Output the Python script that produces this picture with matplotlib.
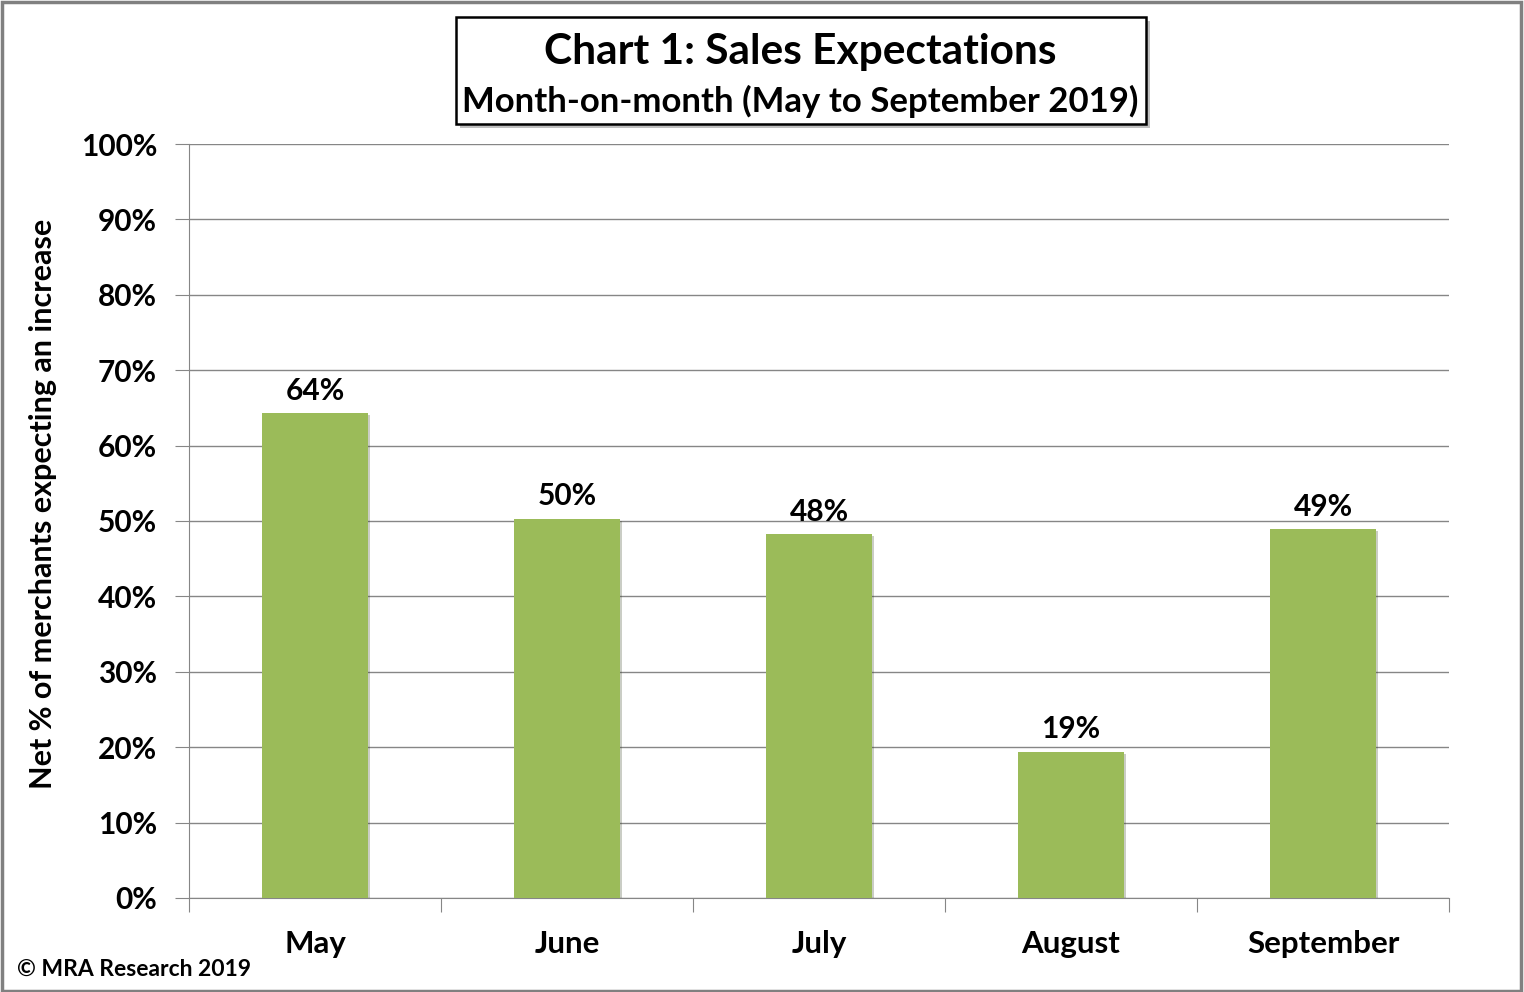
import matplotlib.pyplot as plt
from matplotlib.patches import Rectangle
import matplotlib.patheffects as pe

months = ["May", "June", "July", "August", "September"]
values = [64.3, 50.3, 48.3, 19.4, 48.9]
labels = ["64%", "50%", "48%", "19%", "49%"]
yticks = list(range(0, 101, 10))

plt.rcParams['font.family'] = ['Lato', 'DejaVu Sans']
plt.rcParams['font.weight'] = 'bold'

fig = plt.figure(figsize=(15.24, 9.92), dpi=100)
ax = fig.add_axes([0.124, 0.0948, 0.8268, 0.76])

x = list(range(len(months)))
bars = ax.bar(x, values, width=0.42, color='#9BBB59', zorder=3,
              path_effects=[pe.SimplePatchShadow(offset=(1.5, -1.5), alpha=0.25), pe.Normal()])
for xi, v, lab in zip(x, values, labels):
    ax.text(xi, v + 1.1, lab, ha='center', va='bottom', fontsize=21.5, fontweight='bold')

ax.set_xlim(-0.5, len(months) - 0.5)
ax.set_ylim(0, 100)
ax.set_yticks(yticks)
ax.set_yticklabels([f"{t}%" for t in yticks], fontsize=21.5, fontweight='bold')
ax.yaxis.grid(True, color='#868686', linewidth=1, zorder=0)
ax.set_axisbelow(True)

# category ticks between bars
ax.set_xticks([i - 0.5 for i in range(len(months) + 1)])
ax.set_xticklabels([])
ax.set_xticks(x, minor=True)
ax.set_xticklabels(months, minor=True, fontsize=22.5, fontweight='bold')
ax.tick_params(axis='x', which='major', length=10, color='#868686', direction='out')
ax.tick_params(axis='x', which='minor', length=0, pad=23)
ax.tick_params(axis='y', length=10, color='#868686', pad=13)

for s in ['top', 'right']:
    ax.spines[s].set_visible(False)
for s in ['left', 'bottom']:
    ax.spines[s].set_color('#868686')

ax.set_ylabel("Net % of merchants expecting an increase", fontsize=22, fontweight='bold')
ax.yaxis.set_label_coords(-0.105, 0.523)

# title box with shadow
shadow = Rectangle((460 / 1524, 1 - 128 / 992), 690 / 1524, 107 / 992, transform=fig.transFigure,
                   facecolor='#bfbfbf', edgecolor='none', zorder=1)
box = Rectangle((456 / 1524, 1 - 124 / 992), 690 / 1524, 107 / 992, transform=fig.transFigure,
                facecolor='white', edgecolor='black', linewidth=1.8, zorder=2)
fig.patches.extend([shadow, box])
fig.text(800 / 1524, 1 - 52 / 992, "Chart 1: Sales Expectations", ha='center', va='center',
         fontsize=30.5, fontweight='bold', zorder=3)
fig.text(800 / 1524, 1 - 101 / 992, "Month-on-month (May to September 2019)", ha='center', va='center',
         fontsize=25, fontweight='bold', zorder=3)

fig.text(17 / 1524, 1 - 969 / 992, "\u00a9 MRA Research 2019", ha='left', va='center',
         fontsize=16.5, fontweight='bold')

# figure border
fig.patches.append(Rectangle((0.001, 0.001), 0.997, 0.997, transform=fig.transFigure,
                             facecolor='none', edgecolor='#808080', linewidth=2.5))

fig.savefig('out.png', dpi=100)
